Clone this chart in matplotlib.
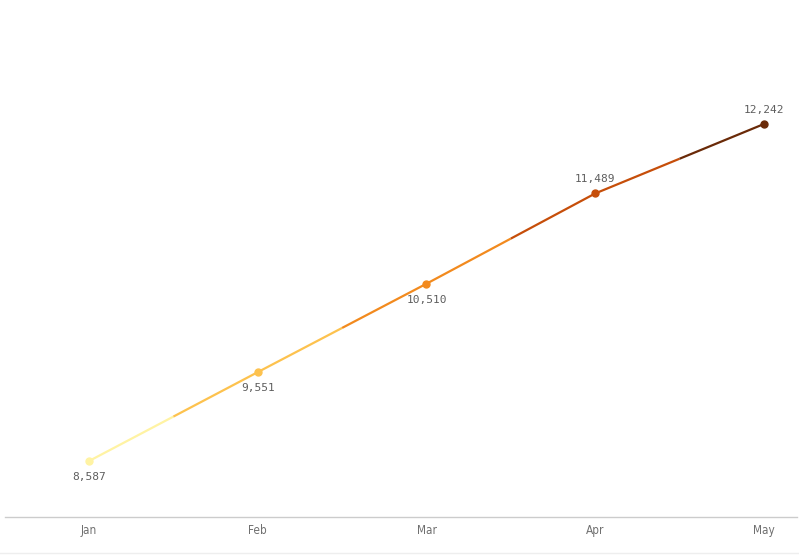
import matplotlib
matplotlib.use("Agg")
import matplotlib.pyplot as plt
from matplotlib.lines import Line2D

months = ["Jan", "Feb", "Mar", "Apr", "May"]
values = [8587, 9551, 10510, 11489, 12242]
labels = ["8,587", "9,551", "10,510", "11,489", "12,242"]
label_pos = ["below", "below", "below", "above", "above"]
colors = ["#fff3a3", "#fdc24e", "#f28a1e", "#c64e0a", "#6a2a08"]

fig = plt.figure(figsize=(7.99, 5.55), dpi=100)
ax = fig.add_axes([5/799, (555-517)/555, 792/799, 517/555])
x = list(range(len(months)))

for i in range(len(x) - 1):
    xm = (x[i] + x[i+1]) / 2
    ym = (values[i] + values[i+1]) / 2
    ax.plot([x[i], xm], [values[i], ym], color=colors[i], lw=1.6,
            solid_capstyle="butt", zorder=2)
    ax.plot([xm, x[i+1]], [ym, values[i+1]], color=colors[i+1], lw=1.6,
            solid_capstyle="butt", zorder=2)

for xi, v, c in zip(x, values, colors):
    ax.plot([xi], [v], marker="o", ms=5, color=c, zorder=3, mec=c)

for xi, v, lab, pos in zip(x, values, labels, label_pos):
    off = -16 if pos == "below" else 14
    ax.annotate(lab, (xi, v), xytext=(0, off), textcoords="offset pixels",
                ha="center", va="center", fontsize=8, color="#5e5e5e",
                family=["DejaVu Sans Mono", "DejaVu Sans"])

ax.set_xlim(-0.498, 4.196)
ax.set_ylim(7980, 13587)
ax.set_xticks(x)
ax.set_xticklabels(months, fontsize=8.5, color="#707070",
                   family=["Liberation Sans Narrow", "DejaVu Sans"], stretch="condensed")
ax.tick_params(axis="x", length=0, pad=5)
ax.set_yticks([])
for s in ["top", "right", "left"]:
    ax.spines[s].set_visible(False)
ax.spines["bottom"].set_color("#cccccc")
ax.spines["bottom"].set_linewidth(1)

fig.add_artist(Line2D([0, 1], [1 - 553/555, 1 - 553/555], color="#eeeeee", lw=1,
                      transform=fig.transFigure))

fig.savefig("out.png", dpi=100)
